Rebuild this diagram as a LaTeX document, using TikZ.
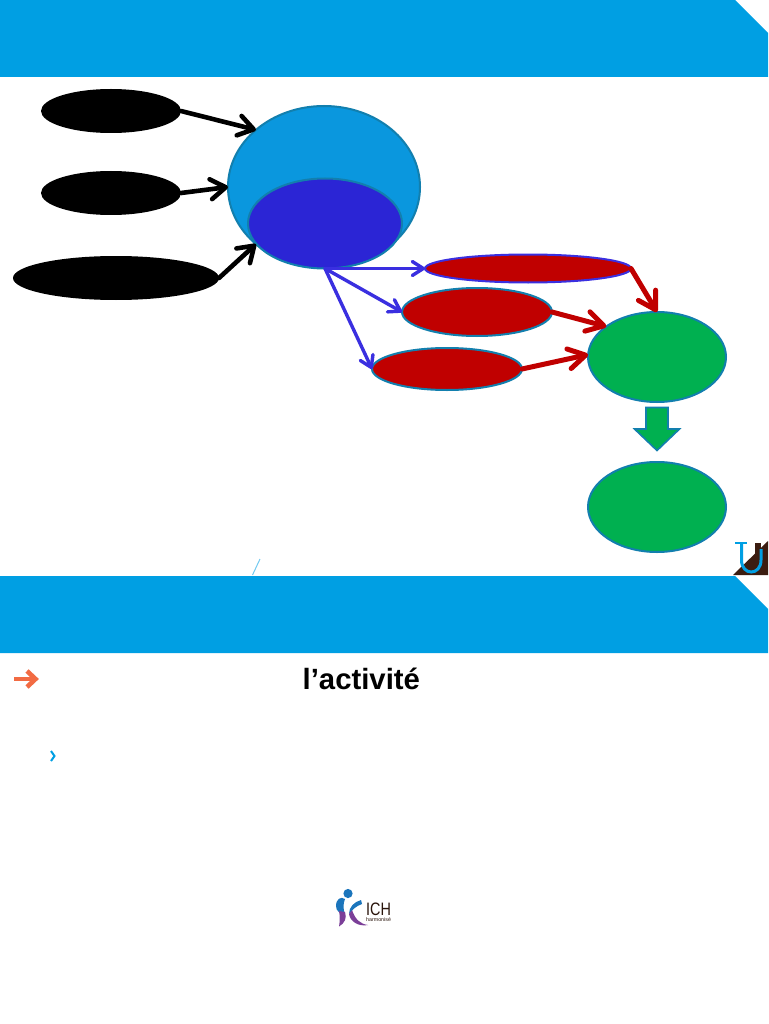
\documentclass[tikz,border=0pt]{standalone}
\usepackage{fontspec}
\setmainfont{Liberation Sans}
\usetikzlibrary{arrows.meta,shapes.geometric}
\definecolor{band}{HTML}{009FE3}
\definecolor{bigblue}{HTML}{0A97DE}
\definecolor{indigo}{HTML}{2B25D5}
\definecolor{darkred}{HTML}{C00000}
\definecolor{green1}{HTML}{00B050}
\definecolor{edge1}{HTML}{127FAE}
\definecolor{arrowblue}{HTML}{3A2FE0}
\definecolor{orange1}{HTML}{F26B43}
\definecolor{brown1}{HTML}{3B1C10}
\definecolor{logoblue}{HTML}{1B75BC}
\definecolor{logopurple}{HTML}{7B3F98}
\tikzset{
  x=1pt,y=-1pt,
  oval/.style={ellipse,inner sep=0pt,outer sep=0pt,line width=2pt,draw=edge1},
  blackoval/.style={ellipse,inner sep=0pt,outer sep=0pt,fill=black},
  blackarrow/.style={draw=black,line width=4.6pt,line cap=round,-{Straight Barb[length=15pt,width=20pt,line width=4.6pt,round]}},
  bluearrow/.style={draw=arrowblue,line width=3.4pt,line cap=round,-{Straight Barb[length=11pt,width=14pt,line width=3.4pt,round]}},
  redarrow/.style={draw=darkred,line width=5pt,line cap=round,-{Straight Barb[length=17pt,width=20pt,line width=5pt,round]}},
  bandshape/.style={fill=band,draw=none}
}
\begin{document}
\begin{tikzpicture}
\useasboundingbox (0,0) rectangle (768,1024);
\fill[white] (0,0) rectangle (768,1024);
% header bands
\fill[bandshape] (0,0) -- (735,0) -- (768,33) -- (768,77) -- (0,77) -- cycle;
\fill[bandshape] (0,576) -- (735,576) -- (768,609) -- (768,653) -- (0,653) -- cycle;
% nodes
\node[blackoval,minimum width=140pt,minimum height=44pt] (a1) at (111,111) {};
\node[blackoval,minimum width=140pt,minimum height=44pt] (a2) at (111,193) {};
\node[blackoval,minimum width=206pt,minimum height=44pt] (a3) at (116,278) {};
\node[oval,fill=bigblue,minimum width=192pt,minimum height=162pt] (big) at (324,187) {};
\node[oval,fill=indigo,minimum width=154pt,minimum height=90pt] (inner) at (325,223.5) {};
\node[oval,fill=darkred,draw=arrowblue,minimum width=206pt,minimum height=28pt] (r1) at (528,268.5) {};
\node[oval,fill=darkred,minimum width=150pt,minimum height=48pt] (r2) at (477,312) {};
\node[oval,fill=darkred,minimum width=150pt,minimum height=42pt] (r3) at (447,369) {};
\node[oval,fill=green1,minimum width=138pt,minimum height=90pt] (g1) at (657,357) {};
\node[oval,fill=green1,minimum width=138pt,minimum height=90pt] (g2) at (657,507) {};
% connectors
\draw[blackarrow] (a1.east) -- (big.140);
\draw[blackarrow] (a2.east) -- (big.west);
\draw[blackarrow] (a3.east) -- (big.220);
\draw[bluearrow] (inner.south) -- (r1.west);
\draw[bluearrow] (inner.south) -- (r2.west);
\draw[bluearrow] (inner.south) -- (r3.west);
\draw[redarrow] (r1.east) -- (g1.north);
\draw[redarrow] (r2.east) -- (g1.149);
\draw[redarrow] (r3.east) -- (g1.178);
% block arrow
\draw[fill=green1,draw=edge1,line width=1.6pt,line join=miter]
  (646,407.5) -- (668,407.5) -- (668,429) -- (679.5,429) -- (657,450.5) -- (634.5,429) -- (646,429) -- cycle;
% small slash
\draw[band!55,line width=1pt] (252.5,575) -- (260,559);
% U logo
\fill[brown1] (733,575) -- (768,541) -- (768,575) -- cycle;
\fill[brown1] (755,543) rectangle (761,558);
\draw[band,line width=3pt] (741.5,543) -- (741.5,560) .. controls (741.5,576) and (761,576) .. (761,560) -- (761,549);
\draw[band,line width=2.4pt] (735,543) -- (747,543);
% title text
\node[inner sep=0pt,anchor=base west,font=\bfseries\fontsize{29.3}{29.3}\selectfont] (title) at (302.5,689) {l’activité};
% orange arrow
\draw[orange1,line width=4.4pt] (14,679) -- (35,679);
\draw[orange1,line width=4.6pt,line join=miter] (27,671) -- (35.5,679) -- (27,687);
% chevron bullet
\draw[band,line width=2pt] (51,751) -- (54.5,756) -- (51,761);
% ICH logo
\fill[logoblue] (348,893.5) circle[radius=4.6];
\fill[logoblue] (336,906) .. controls (336,899) and (341,896) .. (345,899) .. controls (343,904) and (343,909) .. (345,914) .. controls (340,914) and (336,911) .. (336,906) -- cycle;
\fill[logopurple] (345,912) .. controls (347,918) and (345,923) .. (339,926.5) .. controls (340,921) and (340,916) .. (339,911) -- cycle;
\fill[logoblue] (361,900) .. controls (354,902) and (349,907) .. (349,914) .. controls (352,910) and (356,906) .. (362,904) -- cycle;
\fill[logopurple] (349,914) .. controls (350,921) and (358,927) .. (368,925) .. controls (360,924) and (355,919) .. (352,910) -- cycle;
\node[inner sep=0pt,anchor=base west,text=brown1!70!black,font=\fontsize{18}{18}\selectfont,xscale=0.8] (ich) at (366,915) {ICH};
\node[inner sep=0pt,anchor=base west,text=brown1!70!black,font=\fontsize{5.3}{5.3}\selectfont] (harm) at (366,921) {harmonisé};
\end{tikzpicture}
\end{document}
